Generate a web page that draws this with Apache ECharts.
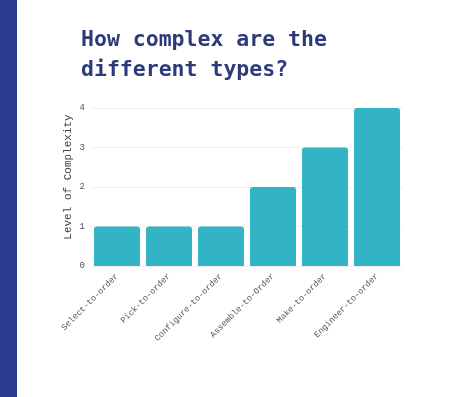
<!DOCTYPE html>
<html><head><meta charset="utf-8">
<script src="https://cdn.jsdelivr.net/npm/echarts@6/dist/echarts.min.js"></script>
<style>html,body{margin:0;padding:0;background:#fff}#c{width:474px;height:397px}</style>
</head><body><div id="c"></div>
<script>
const categories = ['Select-to-order','Pick-to-order','Configure-to-order','Assemble-to-Order','Make-to-order','Engineer-to-order'];
const complexity = [1, 1, 1, 2, 3, 4];
const yTicks = [0, 1, 2, 3, 4];

const chart = echarts.init(document.getElementById('c'));
chart.setOption({
  backgroundColor: '#ffffff',
  animation: false,
  graphic: [{ type: 'rect', left: 0, top: 0, shape: { width: 17, height: 397 }, style: { fill: '#2b3a8c' } }],
  title: {
    text: 'How complex are the\ndifferent types?',
    left: 76, top: 20,
    textStyle: { fontFamily: 'DejaVu Sans Mono', fontWeight: 'bold', fontSize: 21.5, lineHeight: 30, color: '#2c3a7a' }
  },
  grid: { left: 91, right: 71, top: 108, bottom: 131 },
  xAxis: {
    type: 'category', data: categories,
    axisLine: { show: false }, axisTick: { show: false },
    axisLabel: { rotate: 45, interval: 0, margin: 9, fontFamily: 'Liberation Mono', fontSize: 8.5, color: '#555' }
  },
  yAxis: {
    type: 'value', min: yTicks[0], max: yTicks[yTicks.length - 1], interval: 1,
    name: 'Level of Complexity', nameLocation: 'middle', nameGap: 17, nameMoveOverlap: false,
    nameTextStyle: { fontFamily: 'Liberation Mono', fontSize: 11, color: '#444', padding: [0, 0, 0, 20] },
    axisLabel: { margin: 6, fontFamily: 'Liberation Mono', fontSize: 9, color: '#555' },
    splitLine: { lineStyle: { color: '#f0f0f0', width: 1 } },
    axisLine: { show: false }, axisTick: { show: false }
  },
  series: [{
    type: 'bar', data: complexity, barCategoryGap: '11.5%',
    itemStyle: { color: '#33b4c4', borderRadius: [3, 3, 0, 0] }
  }]
});
</script></body></html>
